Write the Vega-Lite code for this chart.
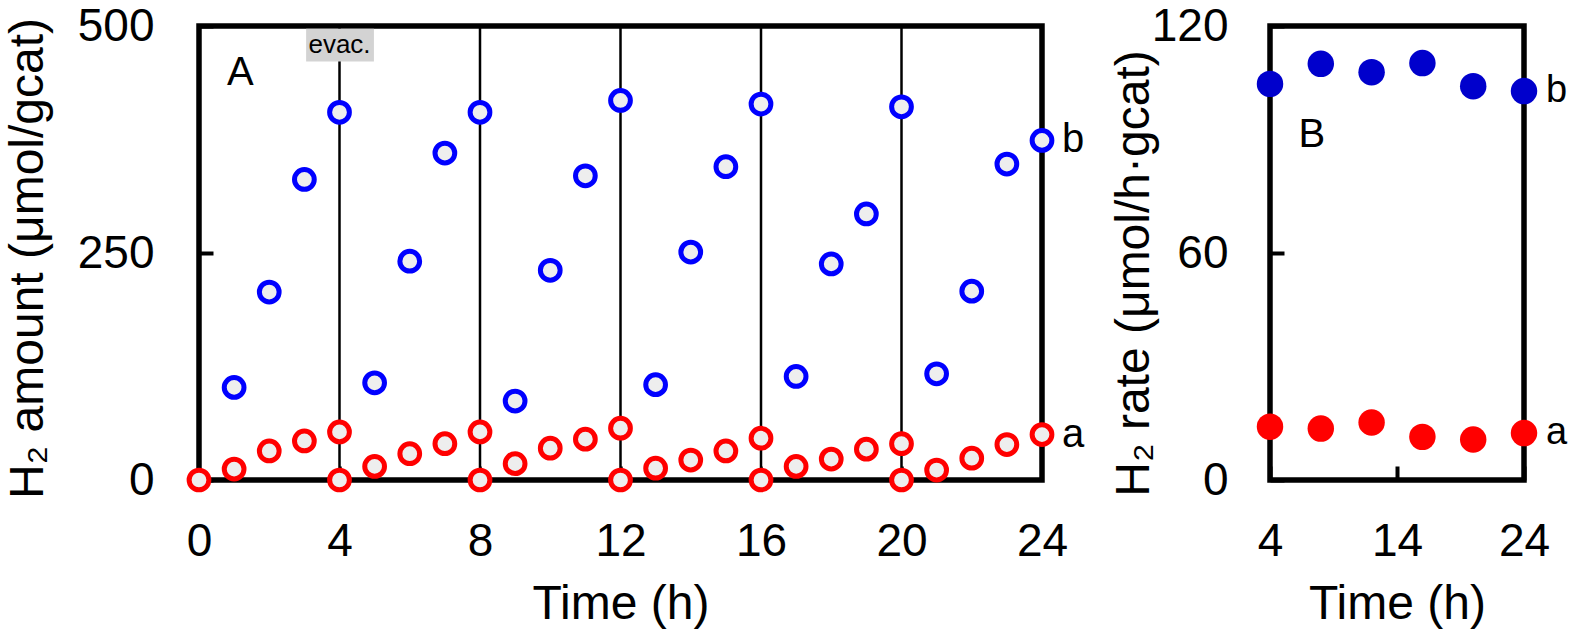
{
  "$schema": "https://vega.github.io/schema/vega-lite/v6.json",
  "background": "white",
  "padding": {"left": 1, "top": 0, "right": 0, "bottom": 0},
  "bounds": "flush",
  "spacing": 228,
  "resolve": {"scale": {"x": "independent", "y": "independent"}},
  "datasets": {
    "evac": [
      {"t": 4, "lo": 0, "hi": 500},
      {"t": 8, "lo": 0, "hi": 500},
      {"t": 12, "lo": 0, "hi": 500},
      {"t": 16, "lo": 0, "hi": 500},
      {"t": 20, "lo": 0, "hi": 500}
    ],
    "amount": [
      {"t": 0, "v": 0, "s": "a"},
      {"t": 1, "v": 12, "s": "a"},
      {"t": 2, "v": 32, "s": "a"},
      {"t": 3, "v": 43, "s": "a"},
      {"t": 4, "v": 53, "s": "a"},
      {"t": 4, "v": 0, "s": "a"},
      {"t": 5, "v": 15, "s": "a"},
      {"t": 6, "v": 29, "s": "a"},
      {"t": 7, "v": 40, "s": "a"},
      {"t": 8, "v": 53, "s": "a"},
      {"t": 8, "v": 0, "s": "a"},
      {"t": 9, "v": 18, "s": "a"},
      {"t": 10, "v": 35, "s": "a"},
      {"t": 11, "v": 45, "s": "a"},
      {"t": 12, "v": 57, "s": "a"},
      {"t": 12, "v": 0, "s": "a"},
      {"t": 13, "v": 13, "s": "a"},
      {"t": 14, "v": 22, "s": "a"},
      {"t": 15, "v": 32, "s": "a"},
      {"t": 16, "v": 46, "s": "a"},
      {"t": 16, "v": 0, "s": "a"},
      {"t": 17, "v": 15, "s": "a"},
      {"t": 18, "v": 23, "s": "a"},
      {"t": 19, "v": 34, "s": "a"},
      {"t": 20, "v": 40, "s": "a"},
      {"t": 20, "v": 0, "s": "a"},
      {"t": 21, "v": 11, "s": "a"},
      {"t": 22, "v": 24, "s": "a"},
      {"t": 23, "v": 39, "s": "a"},
      {"t": 24, "v": 50, "s": "a"},
      {"t": 1, "v": 102, "s": "b"},
      {"t": 2, "v": 207, "s": "b"},
      {"t": 3, "v": 331, "s": "b"},
      {"t": 4, "v": 405, "s": "b"},
      {"t": 5, "v": 107, "s": "b"},
      {"t": 6, "v": 241, "s": "b"},
      {"t": 7, "v": 360, "s": "b"},
      {"t": 8, "v": 405, "s": "b"},
      {"t": 9, "v": 87, "s": "b"},
      {"t": 10, "v": 231, "s": "b"},
      {"t": 11, "v": 335, "s": "b"},
      {"t": 12, "v": 418, "s": "b"},
      {"t": 13, "v": 105, "s": "b"},
      {"t": 14, "v": 251, "s": "b"},
      {"t": 15, "v": 345, "s": "b"},
      {"t": 16, "v": 414, "s": "b"},
      {"t": 17, "v": 114, "s": "b"},
      {"t": 18, "v": 238, "s": "b"},
      {"t": 19, "v": 293, "s": "b"},
      {"t": 20, "v": 411, "s": "b"},
      {"t": 21, "v": 117, "s": "b"},
      {"t": 22, "v": 208, "s": "b"},
      {"t": 23, "v": 348, "s": "b"},
      {"t": 24, "v": 374, "s": "b"}
    ],
    "rate": [
      {"t": 4, "v": 14.1, "s": "a"},
      {"t": 8, "v": 13.6, "s": "a"},
      {"t": 12, "v": 15.2, "s": "a"},
      {"t": 16, "v": 11.4, "s": "a"},
      {"t": 20, "v": 10.7, "s": "a"},
      {"t": 24, "v": 12.4, "s": "a"},
      {"t": 4, "v": 104.7, "s": "b"},
      {"t": 8, "v": 110, "s": "b"},
      {"t": 12, "v": 107.8, "s": "b"},
      {"t": 16, "v": 110.2, "s": "b"},
      {"t": 20, "v": 104.1, "s": "b"},
      {"t": 24, "v": 102.8, "s": "b"}
    ],
    "notesA": [
      {"t": 1.18, "v": 448, "label": "A"},
      {"t": 4, "v": 479, "label": "evac."}
    ],
    "boxA": [
      {"t": 3.05, "t2": 4.98, "v": 461, "v2": 497}
    ],
    "notesB": [
      {"t": 7.3, "v": 91.2, "label": "B"}
    ]
  },
  "hconcat": [
    {
      "width": 843,
      "height": 454,
      "encoding": {
        "x": {
          "field": "t", "type": "quantitative",
          "scale": {"domain": [0, 24], "nice": false, "zero": false},
          "axis": {"values": [0, 4, 8, 12, 16, 20, 24], "title": "Time (h)", "tickWidth": 2.5}
        },
        "y": {
          "field": "v", "type": "quantitative",
          "scale": {"domain": [0, 500], "nice": false},
          "axis": {"values": [0, 250, 500], "title": "H₂ amount (μmol/gcat)", "labelPadding": 59, "titlePadding": 25, "titleY": 232}
        }
      },
      "layer": [
        {
          "data": {"name": "evac"},
          "mark": {"type": "rule", "color": "black", "strokeWidth": 2.5},
          "encoding": {
            "y": {"field": "lo", "type": "quantitative"},
            "y2": {"field": "hi"}
          }
        },
        {
          "data": {"name": "amount"},
          "mark": {"type": "point", "shape": "circle", "filled": true, "fill": "#eeeeee", "size": 390, "strokeWidth": 5, "opacity": 1},
          "encoding": {
            "stroke": {"field": "s", "type": "nominal", "scale": {"domain": ["a", "b"], "range": ["#ff0000", "#0000ff"]}, "legend": null}
          }
        },
        {
          "data": {"name": "amount"},
          "transform": [{"filter": "datum.t == 24"}],
          "mark": {"type": "text", "align": "left", "dx": 20, "fontSize": 40},
          "encoding": {"text": {"field": "s"}}
        },
        {
          "data": {"name": "boxA"},
          "mark": {"type": "rect", "color": "#d3d3d3"},
          "encoding": {
            "x2": {"field": "t2"},
            "y2": {"field": "v2"}
          }
        },
        {
          "data": {"name": "notesA"},
          "mark": {"type": "text"},
          "encoding": {
            "text": {"field": "label"},
            "size": {"condition": {"test": "datum.label == 'A'", "value": 40}, "value": 26}
          }
        }
      ]
    },
    {
      "width": 254,
      "height": 454,
      "encoding": {
        "x": {
          "field": "t", "type": "quantitative",
          "scale": {"domain": [4, 24], "nice": false, "zero": false},
          "axis": {"values": [4, 14, 24], "title": "Time (h)"}
        },
        "y": {
          "field": "v", "type": "quantitative",
          "scale": {"domain": [0, 120], "nice": false},
          "axis": {"values": [0, 60, 120], "title": "H₂ rate (μmol/h·gcat)", "labelPadding": 56, "titlePadding": -7, "titleY": 247}
        }
      },
      "layer": [
        {
          "data": {"name": "rate"},
          "mark": {"type": "circle", "size": 700, "opacity": 1},
          "encoding": {
            "color": {"field": "s", "type": "nominal", "scale": {"domain": ["a", "b"], "range": ["#ff0000", "#0000cc"]}, "legend": null}
          }
        },
        {
          "data": {"name": "rate"},
          "transform": [{"filter": "datum.t == 24"}],
          "mark": {"type": "text", "align": "left", "dx": 22, "fontSize": 38},
          "encoding": {"text": {"field": "s"}}
        },
        {
          "data": {"name": "notesB"},
          "mark": {"type": "text", "fontSize": 40},
          "encoding": {"text": {"field": "label"}}
        }
      ]
    }
  ],
  "config": {
    "font": "Liberation Sans",
    "view": {"stroke": "black", "strokeWidth": 5.5},
    "axis": {
      "grid": false,
      "domain": false,
      "labelFontSize": 46,
      "titleFontSize": 48,
      "titleFontWeight": "normal",
      "labelColor": "black",
      "titleColor": "black",
      "tickColor": "black",
      "tickSize": -14,
      "tickWidth": 4,
      "labelFlush": false,
      "labelOverlap": false
    },
    "axisX": {"labelPadding": 53, "titlePadding": 16},
    "text": {"color": "black", "baseline": "middle"}
  }
}
